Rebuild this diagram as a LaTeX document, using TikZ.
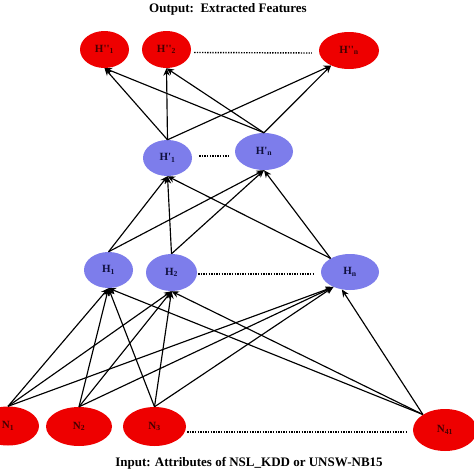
\documentclass[tikz,border=0pt]{standalone}
\usepackage{fontspec}
\setmainfont{Liberation Serif}
\usetikzlibrary{arrows.meta,shapes.geometric}
\definecolor{nred}{RGB}{238,0,0}
\definecolor{nblue}{RGB}{125,125,235}
\definecolor{tred}{RGB}{70,0,0}
\definecolor{tblue}{RGB}{15,15,60}
\tikzset{
  rednode/.style={ellipse,fill=nred,inner sep=0pt,text=tred,font=\bfseries\fontsize{11}{12}\selectfont},
  bluenode/.style={ellipse,fill=nblue,inner sep=0pt,text=tblue,font=\bfseries\fontsize{11}{12}\selectfont},
  conn/.style={line width=1.15pt,-{Stealth[length=7.5pt,width=6.5pt]}},
  dotline/.style={line width=1.4pt,dash pattern=on 1.3pt off 1.3pt},
  caption/.style={font=\bfseries\fontsize{13}{15}\selectfont}
}
\newcommand{\qq}{\textquotesingle\textquotesingle}
\newcommand{\q}{\textquotesingle}
\begin{document}
\begin{tikzpicture}[x=1pt,y=-1pt]
\useasboundingbox (0,0) rectangle (474,474);
\fill[white] (0,0) rectangle (474,474);
% captions
\node[caption] (out) at (228,9) {Output:\ \ Extracted Features};
\node[caption] (in) at (249,463) {Input: Attributes of NSL\_KDD or UNSW-NB15};
% top layer
\node[rednode,minimum width=49pt,minimum height=37pt] (Hpp1) at (104.5,49.5) {H\qq\textsubscript{1}};
\node[rednode,minimum width=49pt,minimum height=37pt] (Hpp2) at (166.5,49.5) {H\qq\textsubscript{2}};
\node[rednode,minimum width=60pt,minimum height=37pt] (Hppn) at (349,50.5) {H\qq\textsubscript{n}};
% second layer
\node[bluenode,minimum width=49pt,minimum height=36pt] (Hp1) at (167.5,158) {H\q\textsubscript{1}};
\node[bluenode,minimum width=58pt,minimum height=37pt] (Hpn) at (264,151.5) {H\q\textsubscript{n}};
% first hidden layer
\node[bluenode,minimum width=49pt,minimum height=36pt] (H1) at (108.5,270) {H\textsubscript{1}};
\node[bluenode,minimum width=51pt,minimum height=37pt] (H2) at (171.5,272.5) {H\textsubscript{2}};
\node[bluenode,minimum width=58pt,minimum height=36pt] (Hn) at (350,272) {H\textsubscript{n}};
% input layer
\node[rednode,minimum width=62pt,minimum height=39pt] (N1) at (8,426) {N\textsubscript{1}};
\node[rednode,minimum width=66pt,minimum height=39pt] (N2) at (79,426.5) {N\textsubscript{2}};
\node[rednode,minimum width=63pt,minimum height=39pt] (N3) at (154.5,426.5) {N\textsubscript{3}};
\node[rednode,minimum width=64pt,minimum height=42pt] (N41) at (445,430) {N\textsubscript{41}};
% dotted lines
\draw[dotline] ([xshift=3pt,yshift=-3pt]Hpp2.east) -- ([xshift=-7pt,yshift=-2.5pt]Hppn.west);
\draw[dotline] ([xshift=7pt,yshift=2pt]Hp1.east) -- ([xshift=-6pt,yshift=-4.5pt]Hpn.west);
\draw[dotline] ([xshift=1pt,yshift=-1.5pt]H2.east) -- ([xshift=-6pt,yshift=-2pt]Hn.west);
\draw[dotline] ([xshift=1pt,yshift=-5.5pt]N3.east) -- ([xshift=-7pt,yshift=-2pt]N41.west);
% input -> H
\foreach \s in {N1,N2,N3}{
  \draw[conn] (\s.north) -- (H1.south);
  \draw[conn] (\s.north) -- (H2.south);
  \draw[conn] (\s.north) -- (Hn.222);
}
\draw[conn] (N41.145) -- (H1.south);
\draw[conn] (N41.145) -- (H2.south);
\draw[conn] (N41.145) -- (Hn.245);
% H -> H'
\draw[conn] (H1.north) -- (Hp1.south);
\draw[conn] (H1.north) -- (Hpn.south);
\draw[conn] (H2.north) -- (Hp1.south);
\draw[conn] (H2.north) -- (Hpn.south);
\draw[conn] (Hn.145) -- (Hp1.south);
\draw[conn] (Hn.145) -- (Hpn.south);
% H' -> H''
\foreach \s in {Hp1,Hpn}{
  \draw[conn] (\s.north) -- (Hpp1.south);
  \draw[conn] (\s.north) -- (Hpp2.south);
  \draw[conn] (\s.north) -- (Hppn.220);
}
\end{tikzpicture}
\end{document}
